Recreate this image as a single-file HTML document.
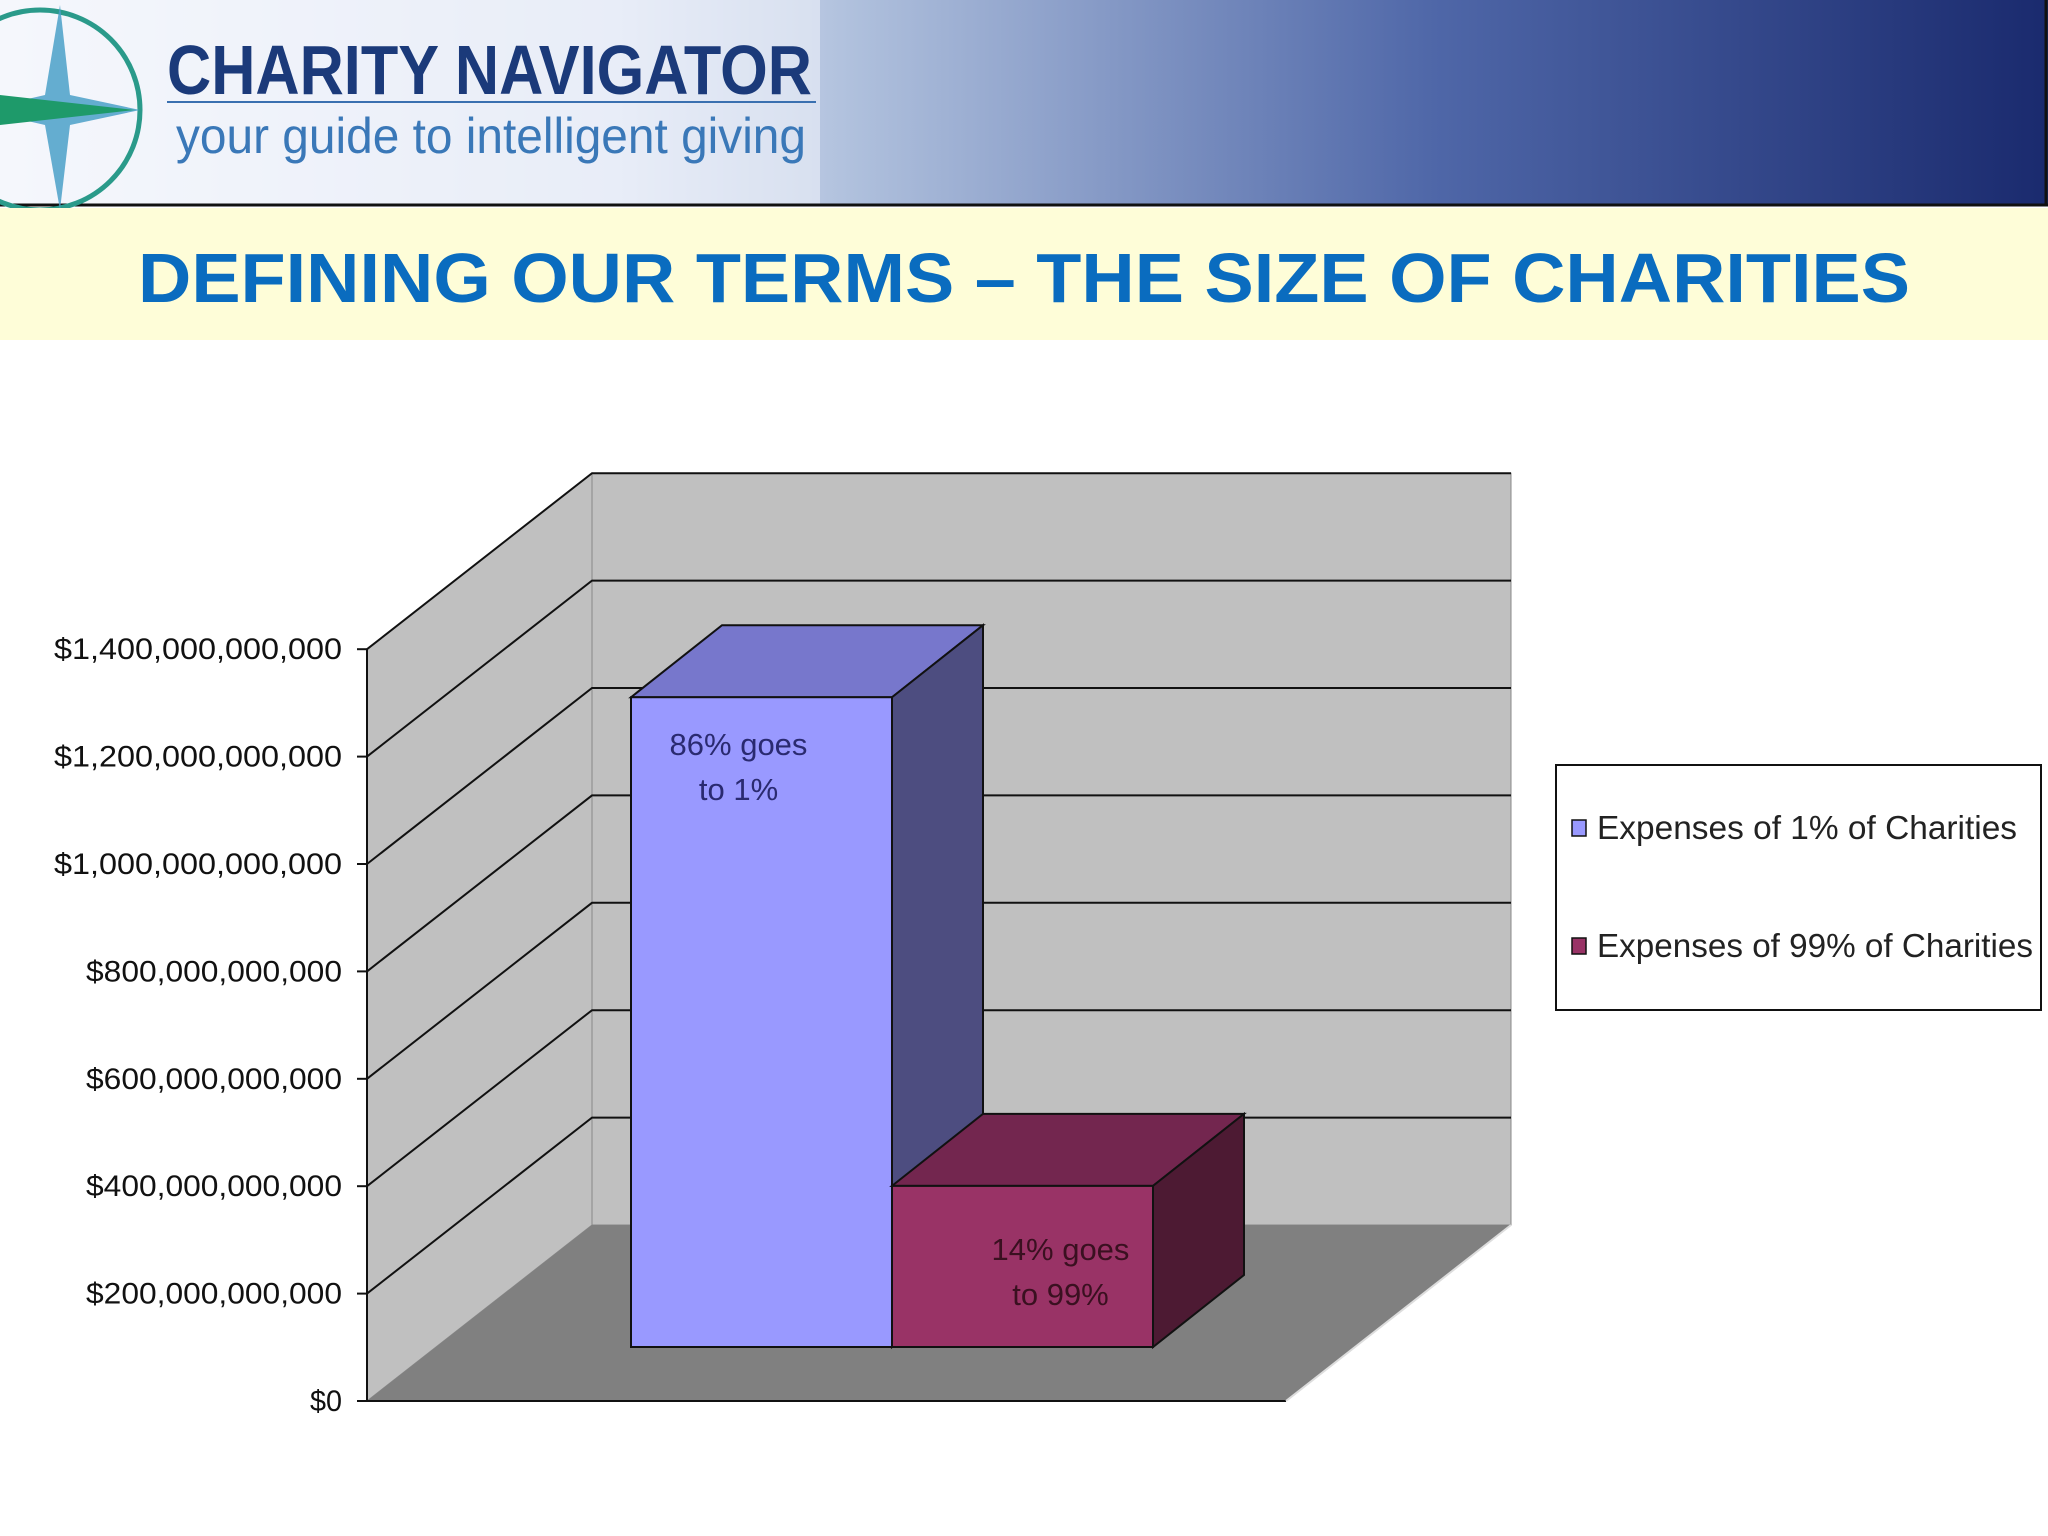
<!DOCTYPE html>
<html><head><meta charset="utf-8"><style>
html,body{margin:0;padding:0;background:#fff;}
svg{display:block;font-family:"Liberation Sans",sans-serif;}
</style></head><body>
<svg width="2048" height="1536" viewBox="0 0 2048 1536">
<defs>
<linearGradient id="hg" x1="0" x2="1" y1="0" y2="0">
<stop offset="0" stop-color="#ffffff"/><stop offset="0.3" stop-color="#dfe6f4"/><stop offset="0.42" stop-color="#aebfdc"/><stop offset="0.7" stop-color="#4f67a8"/><stop offset="1" stop-color="#1a2a6e"/>
</linearGradient>
</defs>
<g>
<rect x="0" y="0" width="2048" height="205" fill="url(#hg)"/>
<rect x="0" y="0" width="820" height="205" fill="#eef2fa" opacity="0.6"/>
<line x1="0" y1="205" x2="2048" y2="205" stroke="#111" stroke-width="3"/>
<line x1="2046" y1="0" x2="2046" y2="205" stroke="#111" stroke-width="3"/>
<g>
<circle cx="40" cy="110" r="100" fill="none" stroke="#2a9a8a" stroke-width="5"/>
<polygon points="60,5 70,95 140,110 70,125 60,210 45,125 -20,110 45,95" fill="#4aa0c8" opacity="0.85"/>
<polygon points="0,95 135,110 0,125" fill="#1e9a6a"/>
</g>
<text x="167" y="94" font-size="70" font-weight="bold" fill="#1b3a7a" textLength="645" lengthAdjust="spacingAndGlyphs">CHARITY NAVIGATOR</text>
<line x1="167" y1="102" x2="816" y2="102" stroke="#3a70b0" stroke-width="2"/>
<text x="176" y="153" font-size="50" fill="#3a78b8" textLength="630" lengthAdjust="spacingAndGlyphs">your guide to intelligent giving</text>
</g>
<rect x="0" y="208" width="2048" height="132" fill="#fefdd8"/>
<text x="1024" y="302" font-size="70" font-weight="bold" fill="#0a6cbf" text-anchor="middle" textLength="1772" lengthAdjust="spacingAndGlyphs">DEFINING OUR TERMS – THE SIZE OF CHARITIES</text>
<g id="chart"></g>
<g>
<rect x="1556" y="765" width="485" height="245" fill="#fff" stroke="#111" stroke-width="2"/>
<g>
<rect x="1572" y="820" width="14" height="16" fill="#9999ff" stroke="#111" stroke-width="1.5"/>
<text x="1597" y="839" font-size="33" fill="#222" textLength="420" lengthAdjust="spacingAndGlyphs">Expenses of 1% of Charities</text></g>
<g>
<rect x="1572" y="938" width="14" height="16" fill="#993366" stroke="#111" stroke-width="1.5"/>
<text x="1597" y="957" font-size="33" fill="#222" textLength="436" lengthAdjust="spacingAndGlyphs">Expenses of 99% of Charities</text></g>
</g>
</svg>
<script>
const tickValues=[0,200e9,400e9,600e9,800e9,1000e9,1200e9,1400e9];
const tickLabels=["$0","$200,000,000,000","$400,000,000,000","$600,000,000,000","$800,000,000,000","$1,000,000,000,000","$1,200,000,000,000","$1,400,000,000,000"];
const categories=["Expenses of 1% of Charities","Expenses of 99% of Charities"];
const seriesValues=[1210e9,300e9];
const barLabels=[["86% goes","to 1%"],["14% goes","to 99%"]];

const NS="http://www.w3.org/2000/svg";
const g=document.getElementById('chart');
const X0=367,X1=1286,Y0=1401,PX=107.4/200e9,DX=225,DY=176;
function y(v){return Y0-v*PX;}
function el(t,a,p){const e=document.createElementNS(NS,t);for(const k in a)e.setAttribute(k,a[k]);(p||g).appendChild(e);return e;}
function pts(a){return a.map(p=>p[0]+','+p[1]).join(' ');}
const maxV=tickValues[tickValues.length-1];
const lw=el('polygon',{points:pts([[X0,Y0],[X0,y(maxV)],[X0+DX,y(maxV)-DY],[X0+DX,Y0-DY]]),fill:'#c0c0c0',stroke:'#888'});

const bw=el('rect',{x:X0+DX,y:y(maxV)-DY,width:X1-X0,height:maxV*PX,fill:'#c0c0c0',stroke:'#888'});

const fl=el('polygon',{points:pts([[X0,Y0],[X1,Y0],[X1+DX,Y0-DY],[X0+DX,Y0-DY]]),fill:'#808080'});

tickValues.forEach((v,i)=>{
 if(i>0){const gl=el('polyline',{points:pts([[X0,y(v)],[X0+DX,y(v)-DY],[X1+DX,y(v)-DY]]),fill:'none',stroke:'#111','stroke-width':2});
 }
 const tk=el('line',{x1:X0-10,y1:y(v),x2:X0,y2:y(v),stroke:'#111','stroke-width':2});
 
 const w=tickLabels[i].length*16;
 const t=el('text',{x:X0-25,y:y(v)+10,'font-size':30,fill:'#111','text-anchor':'end',textLength:w,lengthAdjust:'spacingAndGlyphs'});
 t.textContent=tickLabels[i];
 
});
el('line',{x1:X0,y1:Y0,x2:X0,y2:y(maxV),stroke:'#111','stroke-width':2});
el('line',{x1:X0,y1:Y0,x2:X1,y2:Y0,stroke:'#111','stroke-width':2});
el('line',{x1:X1,y1:Y0,x2:X1+DX,y2:Y0-DY,stroke:'#ddd','stroke-width':2});
const colors=[['#9999ff','#7777cc','#4d4d80'],['#993366','#73264f','#4d1a33']];
const bx=69,by=54,bd=[91,72],bwid=261,cat0=562;
seriesValues.forEach((v,i)=>{
 const xl=cat0+i*bwid+bx,xr=xl+bwid,yb=Y0-by,yt=yb-v*PX;
 const grp=el('g',{});
 
 
 el('polygon',{points:pts([[xl,yt],[xl+bd[0],yt-bd[1]],[xr+bd[0],yt-bd[1]],[xr,yt]]),fill:colors[i][1],stroke:'#111','stroke-width':2},grp);
 el('polygon',{points:pts([[xr,yt],[xr+bd[0],yt-bd[1]],[xr+bd[0],yb-bd[1]],[xr,yb]]),fill:colors[i][2],stroke:'#111','stroke-width':2},grp);
 el('rect',{x:xl,y:yt,width:bwid,height:v*PX,fill:colors[i][0],stroke:'#111','stroke-width':2},grp);
 const cx=xl+bwid/2+(i===0?-23:38),ty=i===0?yt+58:yt+74;
 barLabels[i].forEach((s,j)=>{
  const t=el('text',{x:cx,y:ty+j*45,'font-size':31,fill:i===0?'#2a2a70':'#3a1020','text-anchor':'middle'},grp);
  t.textContent=s;
  
 });
});
</script>
</body></html>
